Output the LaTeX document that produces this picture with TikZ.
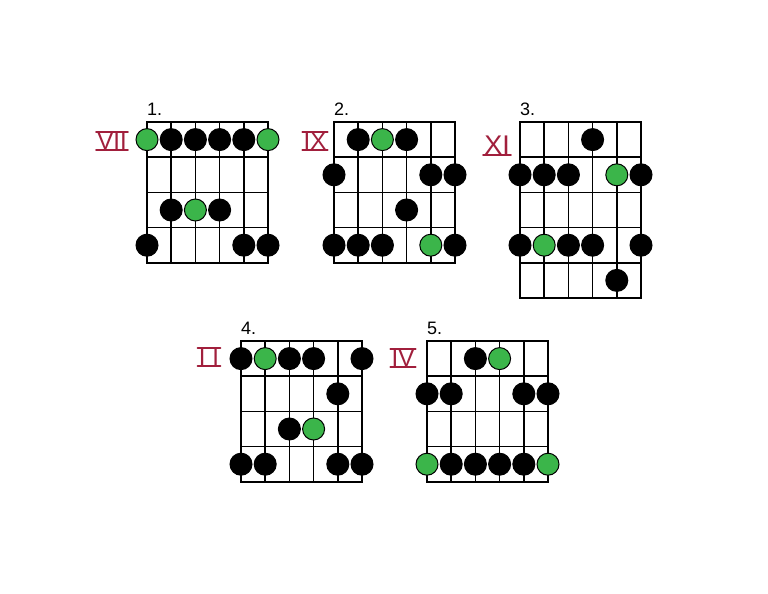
\documentclass[tikz,border=0pt]{standalone}
\usepackage{fontspec}
\setmainfont{Liberation Sans}
\usepackage{xcolor}
\usepackage{tikz}
\usetikzlibrary{calc}
\definecolor{rootgreen}{HTML}{3BB54A}
\definecolor{posred}{HTML}{A11F3C}

\begin{document}
\begin{tikzpicture}[
			     x=1pt, y=-1pt,
			     fret/.style={line width=1.6pt, line cap=rect},
			     dot/.style={circle, draw=black, line width=1pt, fill=black, minimum size=22pt, inner sep=0pt},
			     root/.style={dot, fill=rootgreen},
			     title/.style={font=\fontsize{18}{20}\selectfont, anchor=base west, inner sep=0pt},
			     fretnum/.style={text=posred, font=\fontsize{24}{26}\selectfont, inner xsep=1pt, inner ysep=0.5pt},
			     bar/.style={draw=posred, line width=2pt, line cap=round}
			     ] 
\fill[white] (0,0) rectangle (768,594);
\useasboundingbox (0,0) rectangle (768,594);
% corners of the five boxes
\coordinate (g1) at (147,122);
\coordinate (g2) at (334,122);
\coordinate (g3) at (520,122);
\coordinate (g4) at (241,341);
\coordinate (g5) at (427,341);
% strings and frets
\foreach \d/\n in {1/4, 2/4, 3/5, 4/4, 5/4} {
  \foreach \s in {0,...,5}
    \draw[fret] ($(g\d)+(\s*24.2,0)$) -- ($(g\d)+(\s*24.2,\n*35.2)$);
  \foreach \r in {0,...,\n}
    \draw[fret] ($(g\d)+(0,\r*35.2)$) -- ($(g\d)+(121,\r*35.2)$);
  \node[title] (t\d) at ($(g\d)+(0,-7)$) {\d.};
}
% notes: box/string/fret/style
\foreach \d/\s/\r/\c in {
  1/0/1/root, 1/1/1/dot, 1/2/1/dot, 1/3/1/dot, 1/4/1/dot, 1/5/1/root,
  1/1/3/dot, 1/2/3/root, 1/3/3/dot, 1/0/4/dot, 1/4/4/dot, 1/5/4/dot,
  2/1/1/dot, 2/2/1/root, 2/3/1/dot, 2/0/2/dot, 2/4/2/dot, 2/5/2/dot,
  2/3/3/dot, 2/0/4/dot, 2/1/4/dot, 2/2/4/dot, 2/4/4/root, 2/5/4/dot,
  3/3/1/dot, 3/0/2/dot, 3/1/2/dot, 3/2/2/dot, 3/4/2/root, 3/5/2/dot,
  3/0/4/dot, 3/1/4/root, 3/2/4/dot, 3/3/4/dot, 3/5/4/dot, 3/4/5/dot,
  4/0/1/dot, 4/1/1/root, 4/2/1/dot, 4/3/1/dot, 4/5/1/dot, 4/4/2/dot,
  4/2/3/dot, 4/3/3/root, 4/0/4/dot, 4/1/4/dot, 4/4/4/dot, 4/5/4/dot,
  5/2/1/dot, 5/3/1/root, 5/0/2/dot, 5/1/2/dot, 5/4/2/dot, 5/5/2/dot,
  5/0/4/root, 5/1/4/dot, 5/2/4/dot, 5/3/4/dot, 5/4/4/dot, 5/5/4/root}
  \node[\c] (n\d-\s-\r) at ($(g\d)+(\s*24.2,\r*35.2-17.6)$) {};
% fret positions
\node[fretnum] (p1) at (112,141) {VII};
\node[fretnum] (p2) at (315,141) {IX};
\node[fretnum, font=\fontsize{27}{29}\selectfont] (p3) at (497,145) {XI};
\node[fretnum] (p4) at (209,357) {I\hspace{7pt}I};
\node[fretnum] (p5) at (403,358) {IV};
\foreach \p in {1,2,4,5} {
  \draw[bar] (p\p.north west) -- (p\p.north east);
  \draw[bar] (p\p.south west) -- (p\p.south east);
}
\draw[bar] (p3.south west) -- (p3.south east);
\end{tikzpicture}
\end{document}
